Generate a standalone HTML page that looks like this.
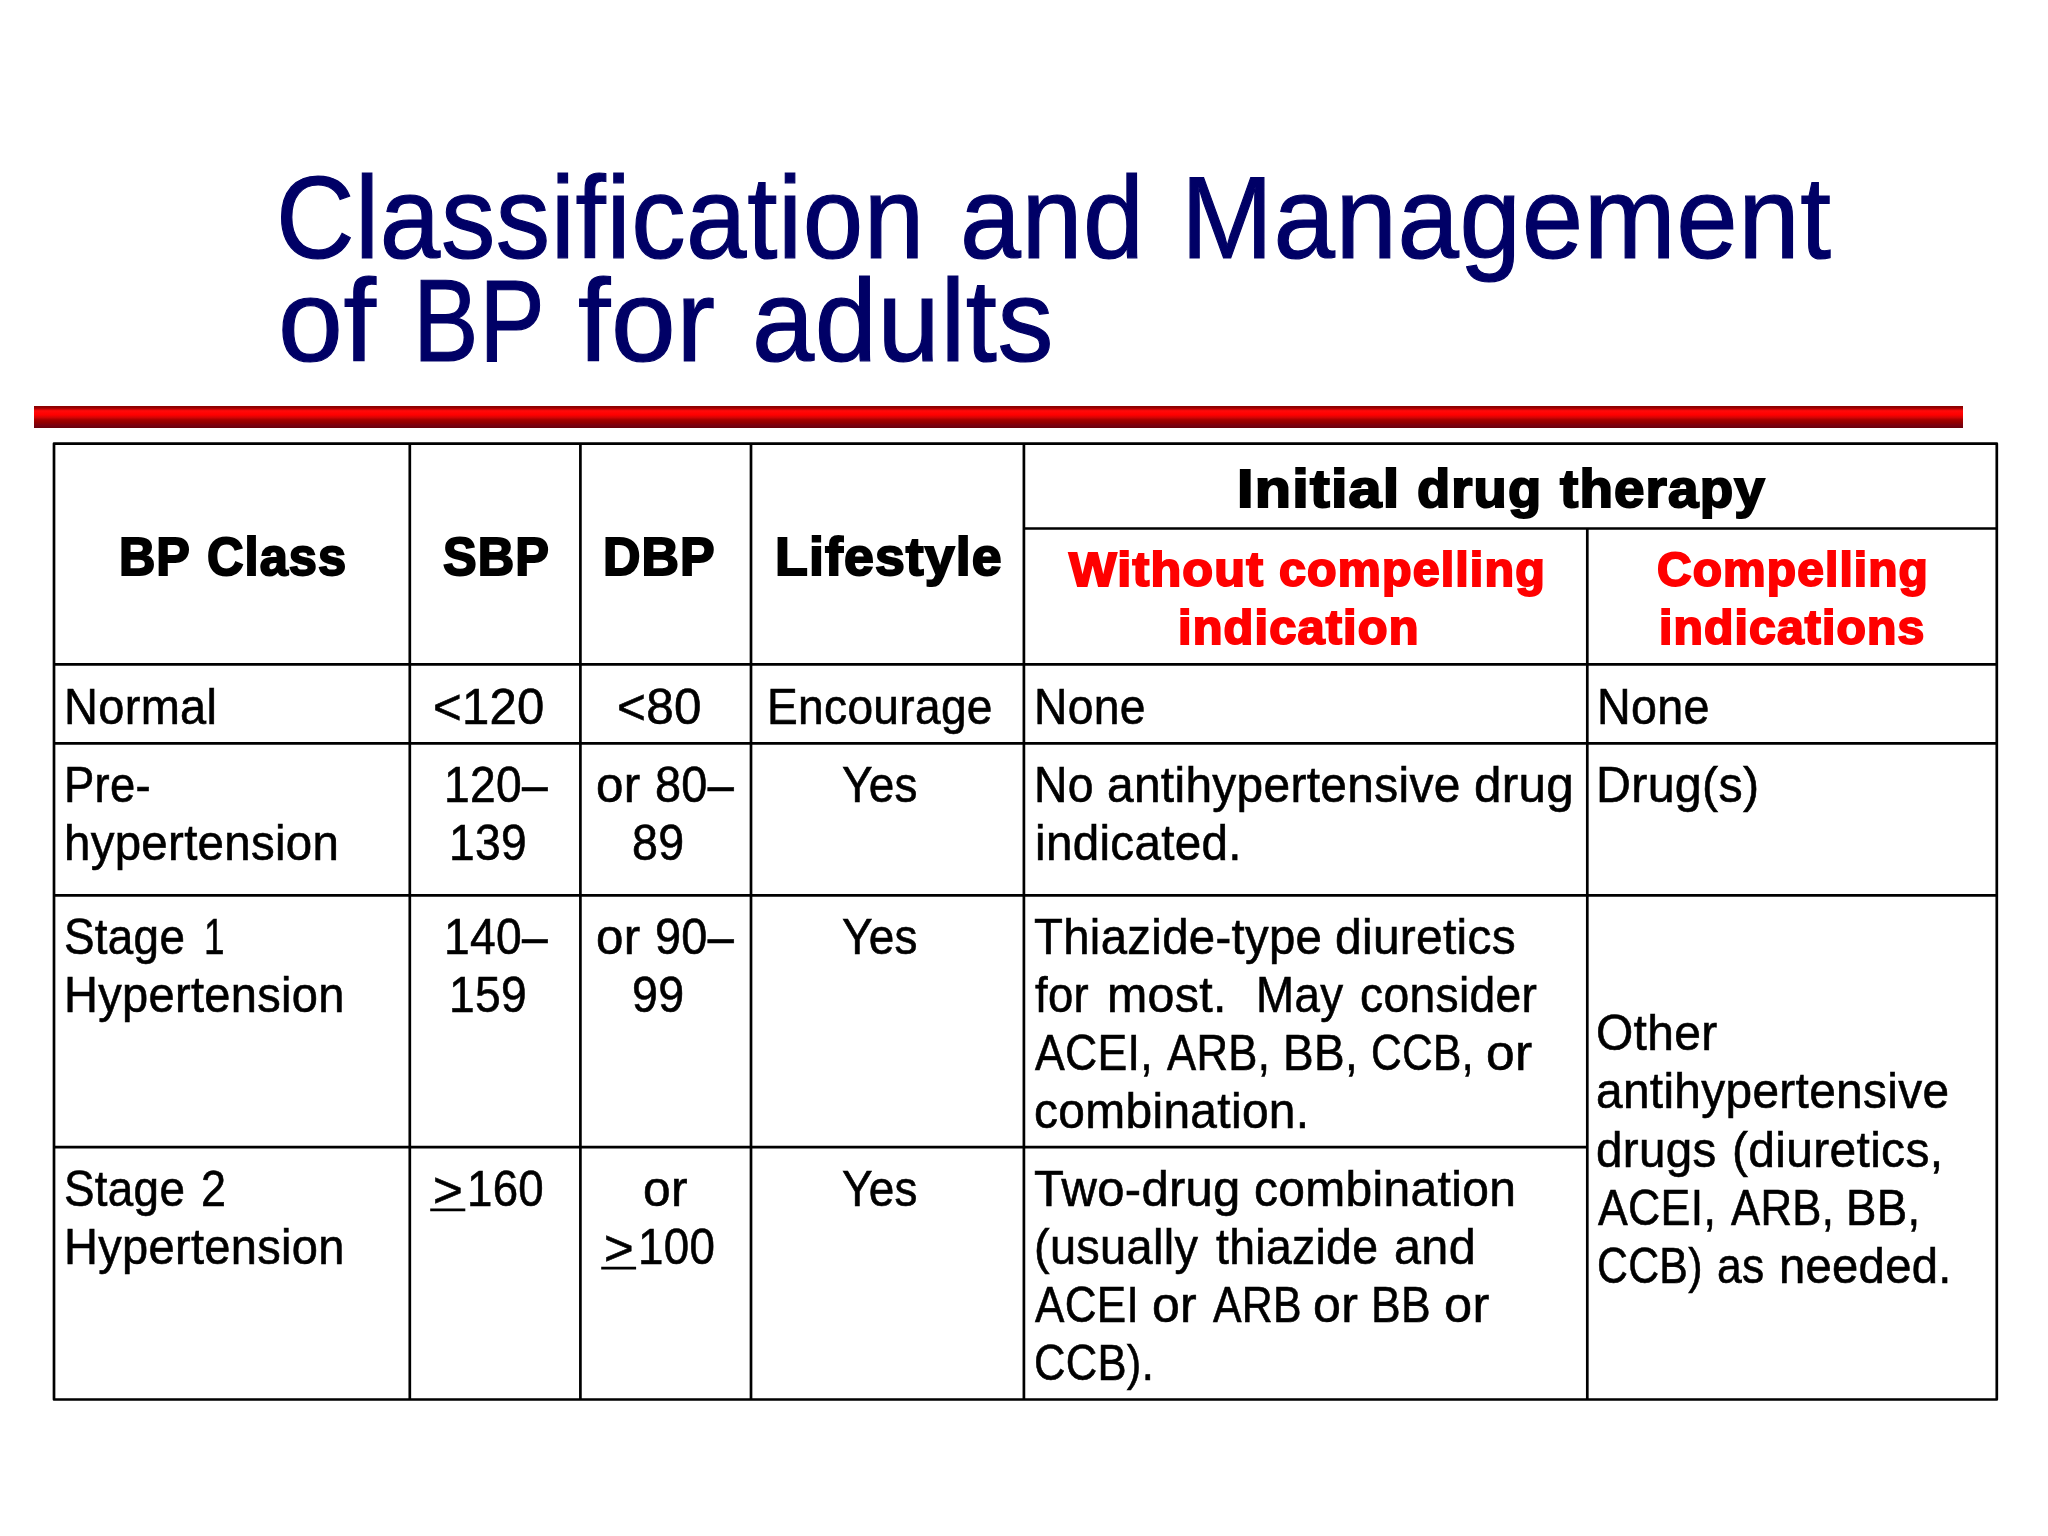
<!DOCTYPE html>
<html lang="en">
<head>
<meta charset="utf-8">
<title>Classification and Management of BP for adults</title>
<style>
html,body{margin:0;padding:0;}
body{width:2048px;height:1536px;background:#ffffff;position:relative;overflow:hidden;font-family:"Liberation Sans",sans-serif;}
.slide{position:absolute;left:0;top:0;width:2048px;height:1536px;background:#fff;overflow:hidden;}
.txt{position:absolute;left:0;top:0;width:2048px;height:1536px;will-change:transform;}
.w{position:absolute;white-space:pre;line-height:1;transform-origin:0 0;margin:0;padding:0;}
.b{font-weight:bold;}
.g{margin:0;padding:0;font-size:inherit;font-weight:normal;position:static;}
.bar{position:absolute;left:34px;top:406px;width:1929px;height:22px;
 background:linear-gradient(to bottom,#860000 0%,#9c0000 9%,#ff0a0a 22%,#ff0000 40%,#d40404 52%,#a80000 62%,#920000 75%,#7a0010 88%,#6a0008 100%);}
svg.grid{position:absolute;left:0;top:0;}
</style>
</head>
<body>
<div class="slide">
<div class="bar"></div>
<svg class="grid" width="2048" height="1536" viewBox="0 0 2048 1536">
<g stroke="#000" stroke-width="2.7" stroke-linecap="butt" stroke-linejoin="round" fill="none">
<rect x="54.0" y="443.6" width="1942.80" height="955.90"/>
<line x1="409.8" y1="443.6" x2="409.8" y2="1399.5"/>
<line x1="580.4" y1="443.6" x2="580.4" y2="1399.5"/>
<line x1="751.0" y1="443.6" x2="751.0" y2="1399.5"/>
<line x1="1023.9" y1="443.6" x2="1023.9" y2="1399.5"/>
<line x1="1587.3" y1="528.5" x2="1587.3" y2="1399.5"/>
<line x1="1023.9" y1="528.5" x2="1996.8" y2="528.5"/>
<line x1="54.0" y1="664.4" x2="1996.8" y2="664.4"/>
<line x1="54.0" y1="743.3" x2="1996.8" y2="743.3"/>
<line x1="54.0" y1="895.3" x2="1996.8" y2="895.3"/>
<line x1="54.0" y1="1147.1" x2="1587.3" y2="1147.1"/>
</g>
<line x1="430.2" y1="1209.9" x2="465.3" y2="1209.9" stroke="#000" stroke-width="2.8"/>
<line x1="601.2" y1="1268.2" x2="636.1" y2="1268.2" stroke="#000" stroke-width="2.8"/>
</svg>
<div class="txt">
<h1 class="g">
<span class="w" style="left:275.72px;top:159.10px;font-size:117.3px;color:#000066;transform:scaleX(0.9266);-webkit-text-stroke:1.2px #000066;letter-spacing:0.66px;">Classification </span>
<span class="w" style="left:959.83px;top:159.10px;font-size:117.3px;color:#000066;transform:scaleX(0.9337);-webkit-text-stroke:1.2px #000066;letter-spacing:0.66px;">and </span>
<span class="w" style="left:1181.10px;top:159.10px;font-size:117.3px;color:#000066;transform:scaleX(0.9411);-webkit-text-stroke:1.2px #000066;letter-spacing:0.66px;">Management </span>
<span class="w" style="left:277.62px;top:261.90px;font-size:117.3px;color:#000066;transform:scaleX(0.9938);-webkit-text-stroke:1.2px #000066;letter-spacing:0.66px;">of </span>
<span class="w" style="left:413.36px;top:261.90px;font-size:117.3px;color:#000066;transform:scaleX(0.8383);-webkit-text-stroke:1.2px #000066;letter-spacing:0.66px;">BP </span>
<span class="w" style="left:578.20px;top:261.90px;font-size:117.3px;color:#000066;transform:scaleX(0.9917);-webkit-text-stroke:1.2px #000066;letter-spacing:0.66px;">for </span>
<span class="w" style="left:752.46px;top:261.90px;font-size:117.3px;color:#000066;transform:scaleX(0.9530);-webkit-text-stroke:1.2px #000066;letter-spacing:0.66px;">adults </span>
</h1>
<div class="g header">
<span class="w b" style="left:119.22px;top:530.00px;font-size:53.6px;color:#000000;transform:scaleX(0.9381);-webkit-text-stroke:2.0px #000000;letter-spacing:1.1px;">BP </span>
<span class="w b" style="left:206.56px;top:530.00px;font-size:53.6px;color:#000000;transform:scaleX(0.9443);-webkit-text-stroke:2.0px #000000;letter-spacing:1.1px;">Class </span>
<span class="w b" style="left:442.50px;top:530.00px;font-size:53.6px;color:#000000;transform:scaleX(0.9413);-webkit-text-stroke:2.0px #000000;letter-spacing:1.1px;">SBP </span>
<span class="w b" style="left:602.66px;top:530.00px;font-size:53.6px;color:#000000;transform:scaleX(0.9680);-webkit-text-stroke:2.0px #000000;letter-spacing:1.1px;">DBP </span>
<span class="w b" style="left:774.70px;top:530.00px;font-size:53.6px;color:#000000;transform:scaleX(1.0021);-webkit-text-stroke:2.0px #000000;letter-spacing:1.1px;">Lifestyle </span>
<span class="w b" style="left:1236.58px;top:462.00px;font-size:53.6px;color:#000000;transform:scaleX(1.1075);-webkit-text-stroke:2.0px #000000;letter-spacing:1.1px;">Initial </span>
<span class="w b" style="left:1416.59px;top:462.00px;font-size:53.6px;color:#000000;transform:scaleX(1.0148);-webkit-text-stroke:2.0px #000000;letter-spacing:1.1px;">drug </span>
<span class="w b" style="left:1560.02px;top:462.00px;font-size:53.6px;color:#000000;transform:scaleX(1.0228);-webkit-text-stroke:2.0px #000000;letter-spacing:1.1px;">therapy </span>
<span class="w b" style="left:1069.46px;top:546.40px;font-size:47.6px;color:#ff0000;transform:scaleX(1.0588);-webkit-text-stroke:2.0px #ff0000;letter-spacing:1.1px;">Without </span>
<span class="w b" style="left:1278.70px;top:546.40px;font-size:47.6px;color:#ff0000;transform:scaleX(1.0176);-webkit-text-stroke:2.0px #ff0000;letter-spacing:1.1px;">compelling </span>
<span class="w b" style="left:1177.65px;top:604.40px;font-size:47.6px;color:#ff0000;transform:scaleX(1.0247);-webkit-text-stroke:2.0px #ff0000;letter-spacing:1.1px;">indication </span>
<span class="w b" style="left:1656.60px;top:546.40px;font-size:47.6px;color:#ff0000;transform:scaleX(1.0070);-webkit-text-stroke:2.0px #ff0000;letter-spacing:1.1px;">Compelling </span>
<span class="w b" style="left:1659.48px;top:604.40px;font-size:47.6px;color:#ff0000;transform:scaleX(1.0118);-webkit-text-stroke:2.0px #ff0000;letter-spacing:1.1px;">indications </span>
</div>
<div class="g row1">
<span class="w" style="left:63.81px;top:682.60px;font-size:49.8px;color:#000000;transform:scaleX(0.9437);-webkit-text-stroke:0.6px #000000;letter-spacing:0.33px;">Normal </span>
<span class="w" style="left:432.73px;top:682.60px;font-size:49.8px;color:#000000;transform:scaleX(0.9840);-webkit-text-stroke:0.6px #000000;letter-spacing:0.33px;">&lt;120 </span>
<span class="w" style="left:616.72px;top:682.60px;font-size:49.8px;color:#000000;transform:scaleX(0.9910);-webkit-text-stroke:0.6px #000000;letter-spacing:0.33px;">&lt;80 </span>
<span class="w" style="left:767.07px;top:682.60px;font-size:49.8px;color:#000000;transform:scaleX(0.9261);-webkit-text-stroke:0.6px #000000;letter-spacing:0.33px;">Encourage </span>
<span class="w" style="left:1034.07px;top:682.60px;font-size:49.8px;color:#000000;transform:scaleX(0.9283);-webkit-text-stroke:0.6px #000000;letter-spacing:0.33px;">None </span>
<span class="w" style="left:1596.53px;top:682.60px;font-size:49.8px;color:#000000;transform:scaleX(0.9370);-webkit-text-stroke:0.6px #000000;letter-spacing:0.33px;">None </span>
</div>
<div class="g row2">
<span class="w" style="left:63.93px;top:761.40px;font-size:49.8px;color:#000000;transform:scaleX(0.9114);-webkit-text-stroke:0.6px #000000;letter-spacing:0.33px;">Pre- </span>
<span class="w" style="left:64.33px;top:819.40px;font-size:49.8px;color:#000000;transform:scaleX(0.9518);-webkit-text-stroke:0.6px #000000;letter-spacing:0.33px;">hypertension </span>
<span class="w" style="left:444.09px;top:761.40px;font-size:49.8px;color:#000000;transform:scaleX(0.9282);-webkit-text-stroke:0.6px #000000;letter-spacing:0.33px;">120– </span>
<span class="w" style="left:448.90px;top:819.40px;font-size:49.8px;color:#000000;transform:scaleX(0.9266);-webkit-text-stroke:0.6px #000000;letter-spacing:0.33px;">139 </span>
<span class="w" style="left:595.62px;top:761.40px;font-size:49.8px;color:#000000;transform:scaleX(0.9900);-webkit-text-stroke:0.6px #000000;letter-spacing:0.33px;">or </span>
<span class="w" style="left:655.10px;top:761.40px;font-size:49.8px;color:#000000;transform:scaleX(0.9401);-webkit-text-stroke:0.6px #000000;letter-spacing:0.33px;">80– </span>
<span class="w" style="left:631.71px;top:819.40px;font-size:49.8px;color:#000000;transform:scaleX(0.9349);-webkit-text-stroke:0.6px #000000;letter-spacing:0.33px;">89 </span>
<span class="w" style="left:842.25px;top:761.40px;font-size:49.8px;color:#000000;transform:scaleX(0.9219);-webkit-text-stroke:0.6px #000000;letter-spacing:0.33px;">Yes </span>
<span class="w" style="left:1034.06px;top:761.40px;font-size:49.8px;color:#000000;transform:scaleX(0.9305);-webkit-text-stroke:0.6px #000000;letter-spacing:0.33px;">No </span>
<span class="w" style="left:1107.07px;top:761.40px;font-size:49.8px;color:#000000;transform:scaleX(0.9611);-webkit-text-stroke:0.6px #000000;letter-spacing:0.33px;">antihypertensive </span>
<span class="w" style="left:1474.12px;top:761.40px;font-size:49.8px;color:#000000;transform:scaleX(0.9911);-webkit-text-stroke:0.6px #000000;letter-spacing:0.33px;">drug </span>
<span class="w" style="left:1034.62px;top:819.40px;font-size:49.8px;color:#000000;transform:scaleX(0.9552);-webkit-text-stroke:0.6px #000000;letter-spacing:0.33px;">indicated. </span>
<span class="w" style="left:1596.41px;top:761.40px;font-size:49.8px;color:#000000;transform:scaleX(0.9710);-webkit-text-stroke:0.6px #000000;letter-spacing:0.33px;">Drug(s) </span>
</div>
<div class="g row3">
<span class="w" style="left:64.04px;top:913.10px;font-size:49.8px;color:#000000;transform:scaleX(0.9193);-webkit-text-stroke:0.6px #000000;letter-spacing:0.33px;">Stage </span>
<span class="w" style="left:203.50px;top:913.10px;font-size:49.8px;color:#000000;transform:scaleX(0.7415);-webkit-text-stroke:0.6px #000000;letter-spacing:0.33px;">1 </span>
<span class="w" style="left:64.01px;top:971.00px;font-size:49.8px;color:#000000;transform:scaleX(0.9442);-webkit-text-stroke:0.6px #000000;letter-spacing:0.33px;">Hypertension </span>
<span class="w" style="left:444.09px;top:913.10px;font-size:49.8px;color:#000000;transform:scaleX(0.9282);-webkit-text-stroke:0.6px #000000;letter-spacing:0.33px;">140– </span>
<span class="w" style="left:448.90px;top:971.00px;font-size:49.8px;color:#000000;transform:scaleX(0.9266);-webkit-text-stroke:0.6px #000000;letter-spacing:0.33px;">159 </span>
<span class="w" style="left:595.62px;top:913.10px;font-size:49.8px;color:#000000;transform:scaleX(0.9900);-webkit-text-stroke:0.6px #000000;letter-spacing:0.33px;">or </span>
<span class="w" style="left:655.10px;top:913.10px;font-size:49.8px;color:#000000;transform:scaleX(0.9401);-webkit-text-stroke:0.6px #000000;letter-spacing:0.33px;">90– </span>
<span class="w" style="left:631.71px;top:971.00px;font-size:49.8px;color:#000000;transform:scaleX(0.9349);-webkit-text-stroke:0.6px #000000;letter-spacing:0.33px;">99 </span>
<span class="w" style="left:842.25px;top:913.10px;font-size:49.8px;color:#000000;transform:scaleX(0.9219);-webkit-text-stroke:0.6px #000000;letter-spacing:0.33px;">Yes </span>
<span class="w" style="left:1033.73px;top:913.10px;font-size:49.8px;color:#000000;transform:scaleX(0.9505);-webkit-text-stroke:0.6px #000000;letter-spacing:0.33px;">Thiazide-type </span>
<span class="w" style="left:1334.67px;top:913.10px;font-size:49.8px;color:#000000;transform:scaleX(0.9609);-webkit-text-stroke:0.6px #000000;letter-spacing:0.33px;">diuretics </span>
<span class="w" style="left:1035.07px;top:971.00px;font-size:49.8px;color:#000000;transform:scaleX(0.9134);-webkit-text-stroke:0.6px #000000;letter-spacing:0.33px;">for </span>
<span class="w" style="left:1106.98px;top:971.00px;font-size:49.8px;color:#000000;transform:scaleX(0.9706);-webkit-text-stroke:0.6px #000000;letter-spacing:0.33px;">most. </span>
<span class="w" style="left:1256.10px;top:971.00px;font-size:49.8px;color:#000000;transform:scaleX(0.9187);-webkit-text-stroke:0.6px #000000;letter-spacing:0.33px;">May </span>
<span class="w" style="left:1360.02px;top:971.00px;font-size:49.8px;color:#000000;transform:scaleX(0.9287);-webkit-text-stroke:0.6px #000000;letter-spacing:0.33px;">consider </span>
<span class="w" style="left:1034.67px;top:1028.70px;font-size:49.8px;color:#000000;transform:scaleX(0.8959);-webkit-text-stroke:0.6px #000000;letter-spacing:0.33px;">ACEI, </span>
<span class="w" style="left:1167.26px;top:1028.70px;font-size:49.8px;color:#000000;transform:scaleX(0.8773);-webkit-text-stroke:0.6px #000000;letter-spacing:0.33px;">ARB, </span>
<span class="w" style="left:1282.59px;top:1028.70px;font-size:49.8px;color:#000000;transform:scaleX(0.9228);-webkit-text-stroke:0.6px #000000;letter-spacing:0.33px;">BB, </span>
<span class="w" style="left:1370.55px;top:1028.70px;font-size:49.8px;color:#000000;transform:scaleX(0.8542);-webkit-text-stroke:0.6px #000000;letter-spacing:0.33px;">CCB, </span>
<span class="w" style="left:1485.84px;top:1028.70px;font-size:49.8px;color:#000000;transform:scaleX(1.0346);-webkit-text-stroke:0.6px #000000;letter-spacing:0.33px;">or </span>
<span class="w" style="left:1033.96px;top:1086.60px;font-size:49.8px;color:#000000;transform:scaleX(0.9621);-webkit-text-stroke:0.6px #000000;letter-spacing:0.33px;">combination. </span>
</div>
<div class="g row4">
<span class="w" style="left:64.04px;top:1164.60px;font-size:49.8px;color:#000000;transform:scaleX(0.9193);-webkit-text-stroke:0.6px #000000;letter-spacing:0.33px;">Stage </span>
<span class="w" style="left:200.87px;top:1164.60px;font-size:49.8px;color:#000000;transform:scaleX(0.9024);-webkit-text-stroke:0.6px #000000;letter-spacing:0.33px;">2 </span>
<span class="w" style="left:64.01px;top:1222.80px;font-size:49.8px;color:#000000;transform:scaleX(0.9442);-webkit-text-stroke:0.6px #000000;letter-spacing:0.33px;">Hypertension </span>
<span class="w" style="left:432.66px;top:1166.00px;font-size:49.8px;color:#000000;transform:scaleX(1.0234);-webkit-text-stroke:0.6px #000000;letter-spacing:0.33px;">&gt; </span>
<span class="w" style="left:467.23px;top:1164.60px;font-size:49.8px;color:#000000;transform:scaleX(0.9165);-webkit-text-stroke:0.6px #000000;letter-spacing:0.33px;">160 </span>
<span class="w" style="left:643.30px;top:1164.60px;font-size:49.8px;color:#000000;transform:scaleX(0.9971);-webkit-text-stroke:0.6px #000000;letter-spacing:0.33px;">or </span>
<span class="w" style="left:603.87px;top:1224.20px;font-size:49.8px;color:#000000;transform:scaleX(1.0195);-webkit-text-stroke:0.6px #000000;letter-spacing:0.33px;">&gt; </span>
<span class="w" style="left:638.12px;top:1222.80px;font-size:49.8px;color:#000000;transform:scaleX(0.9178);-webkit-text-stroke:0.6px #000000;letter-spacing:0.33px;">100 </span>
<span class="w" style="left:842.25px;top:1164.60px;font-size:49.8px;color:#000000;transform:scaleX(0.9219);-webkit-text-stroke:0.6px #000000;letter-spacing:0.33px;">Yes </span>
<span class="w" style="left:1033.71px;top:1164.60px;font-size:49.8px;color:#000000;transform:scaleX(0.9831);-webkit-text-stroke:0.6px #000000;letter-spacing:0.33px;">Two-drug </span>
<span class="w" style="left:1254.06px;top:1164.60px;font-size:49.8px;color:#000000;transform:scaleX(0.9633);-webkit-text-stroke:0.6px #000000;letter-spacing:0.33px;">combination </span>
<span class="w" style="left:1033.86px;top:1222.80px;font-size:49.8px;color:#000000;transform:scaleX(0.9423);-webkit-text-stroke:0.6px #000000;letter-spacing:0.33px;">(usually </span>
<span class="w" style="left:1215.58px;top:1222.80px;font-size:49.8px;color:#000000;transform:scaleX(0.9314);-webkit-text-stroke:0.6px #000000;letter-spacing:0.33px;">thiazide </span>
<span class="w" style="left:1393.54px;top:1222.80px;font-size:49.8px;color:#000000;transform:scaleX(0.9755);-webkit-text-stroke:0.6px #000000;letter-spacing:0.33px;">and </span>
<span class="w" style="left:1034.67px;top:1280.70px;font-size:49.8px;color:#000000;transform:scaleX(0.8852);-webkit-text-stroke:0.6px #000000;letter-spacing:0.33px;">ACEI </span>
<span class="w" style="left:1151.90px;top:1280.70px;font-size:49.8px;color:#000000;transform:scaleX(1.0018);-webkit-text-stroke:0.6px #000000;letter-spacing:0.33px;">or </span>
<span class="w" style="left:1212.76px;top:1280.70px;font-size:49.8px;color:#000000;transform:scaleX(0.8597);-webkit-text-stroke:0.6px #000000;letter-spacing:0.33px;">ARB </span>
<span class="w" style="left:1312.79px;top:1280.70px;font-size:49.8px;color:#000000;transform:scaleX(1.0065);-webkit-text-stroke:0.6px #000000;letter-spacing:0.33px;">or </span>
<span class="w" style="left:1370.90px;top:1280.70px;font-size:49.8px;color:#000000;transform:scaleX(0.8930);-webkit-text-stroke:0.6px #000000;letter-spacing:0.33px;">BB </span>
<span class="w" style="left:1443.88px;top:1280.70px;font-size:49.8px;color:#000000;transform:scaleX(1.0135);-webkit-text-stroke:0.6px #000000;letter-spacing:0.33px;">or </span>
<span class="w" style="left:1034.11px;top:1338.70px;font-size:49.8px;color:#000000;transform:scaleX(0.8751);-webkit-text-stroke:0.6px #000000;letter-spacing:0.33px;">CCB). </span>
</div>
<div class="g merged">
<span class="w" style="left:1596.36px;top:1009.00px;font-size:49.8px;color:#000000;transform:scaleX(0.9630);-webkit-text-stroke:0.6px #000000;letter-spacing:0.33px;">Other </span>
<span class="w" style="left:1596.37px;top:1067.40px;font-size:49.8px;color:#000000;transform:scaleX(0.9603);-webkit-text-stroke:0.6px #000000;letter-spacing:0.33px;">antihypertensive </span>
<span class="w" style="left:1596.38px;top:1125.70px;font-size:49.8px;color:#000000;transform:scaleX(0.9548);-webkit-text-stroke:0.6px #000000;letter-spacing:0.33px;">drugs </span>
<span class="w" style="left:1732.40px;top:1125.70px;font-size:49.8px;color:#000000;transform:scaleX(0.9629);-webkit-text-stroke:0.6px #000000;letter-spacing:0.33px;">(diuretics, </span>
<span class="w" style="left:1597.87px;top:1183.90px;font-size:49.8px;color:#000000;transform:scaleX(0.8966);-webkit-text-stroke:0.6px #000000;letter-spacing:0.33px;">ACEI, </span>
<span class="w" style="left:1730.66px;top:1183.90px;font-size:49.8px;color:#000000;transform:scaleX(0.8773);-webkit-text-stroke:0.6px #000000;letter-spacing:0.33px;">ARB, </span>
<span class="w" style="left:1846.11px;top:1183.90px;font-size:49.8px;color:#000000;transform:scaleX(0.9160);-webkit-text-stroke:0.6px #000000;letter-spacing:0.33px;">BB, </span>
<span class="w" style="left:1596.54px;top:1242.00px;font-size:49.8px;color:#000000;transform:scaleX(0.8591);-webkit-text-stroke:0.6px #000000;letter-spacing:0.33px;">CCB) </span>
<span class="w" style="left:1716.98px;top:1242.00px;font-size:49.8px;color:#000000;transform:scaleX(0.8928);-webkit-text-stroke:0.6px #000000;letter-spacing:0.33px;">as </span>
<span class="w" style="left:1779.04px;top:1242.00px;font-size:49.8px;color:#000000;transform:scaleX(0.9468);-webkit-text-stroke:0.6px #000000;letter-spacing:0.33px;">needed. </span>
</div>
</div>
</div>
</body>
</html>
